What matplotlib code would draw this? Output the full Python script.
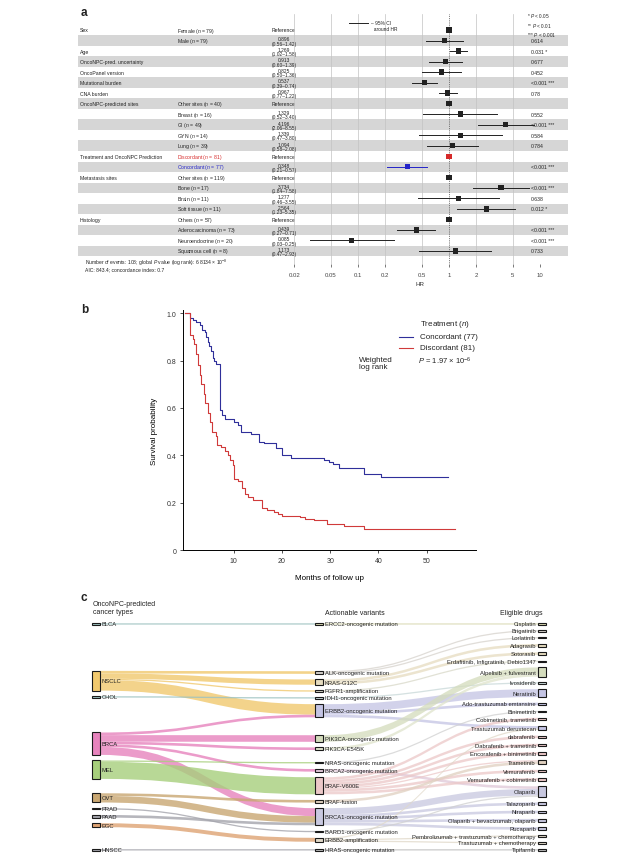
import numpy as np
import matplotlib
matplotlib.use("Agg")
import matplotlib.pyplot as plt
from matplotlib.lines import Line2D
from matplotlib.path import Path
from matplotlib.patches import PathPatch, Rectangle
from matplotlib.ticker import NullLocator

plt.rcParams["font.family"] = ["Liberation Sans", "DejaVu Sans"]
plt.rcParams["mathtext.fontset"] = "custom"
plt.rcParams["mathtext.rm"] = "Liberation Sans"
plt.rcParams["mathtext.it"] = "Liberation Sans:italic"
plt.rcParams["text.color"] = "#222222"

nan = np.nan

# ---------------- panel a data (multivariable Cox model) ----------------
group_labels = ["Sex", "", "Age", "OncoNPC-pred. uncertainty", "OncoPanel version",
                "Mutational burden", "CNA burden", "OncoNPC-predicted sites", "", "", "", "",
                "Treatment and OncoNPC Prediction", "", "Metastasis sites", "", "", "",
                "Histology", "", "", ""]
level_labels = ["Female ($n$ = 79)", "Male ($n$ = 79)", "", "", "", "", "",
                "Other sites ($n$ = 40)", "Breast ($n$ = 16)", "GI ($n$ = 49)", "GYN ($n$ = 14)",
                "Lung ($n$ = 39)", "Discordant ($n$ = 81)", "Concordant ($n$ = 77)",
                "Other sites ($n$ = 119)", "Bone ($n$ = 17)", "Brain ($n$ = 11)",
                "Soft tissue ($n$ = 11)", "Others ($n$ = 57)", "Adenocarcinoma ($n$ = 73)",
                "Neuroendocrine ($n$ = 20)", "Squamous cell ($n$ = 8)"]
hr = [nan, 0.896, 1.269, 0.913, 0.825, 0.537, 0.967, nan, 1.329, 4.196, 1.339, 1.094,
      nan, 0.348, nan, 3.734, 1.277, 2.564, nan, 0.439, 0.085, 1.173]
hr_lo = [nan, 0.56, 1.02, 0.60, 0.50, 0.39, 0.77, nan, 0.52, 2.06, 0.47, 0.58,
         nan, 0.21, nan, 1.84, 0.46, 1.23, nan, 0.27, 0.03, 0.47]
hr_hi = [nan, 1.42, 1.58, 1.39, 1.36, 0.74, 1.22, nan, 3.40, 8.55, 3.80, 2.08,
         nan, 0.57, nan, 7.58, 3.55, 5.35, nan, 0.71, 0.25, 2.93]
p_text = ["", "0.614", "0.031 *", "0.677", "0.452", "<0.001 ***", "0.78", "", "0.552",
          "<0.001 ***", "0.584", "0.784", "", "<0.001 ***", "", "<0.001 ***", "0.638",
          "0.012 *", "", "<0.001 ***", "<0.001 ***", "0.733"]
hr_ticks = [0.02, 0.05, 0.1, 0.2, 0.5, 1, 2, 5, 10]

# ---------------- panel b data (Kaplan-Meier) ----------------
conc_t = [0, 0.9, 1.6, 2.3, 3.0, 3.5, 4.0, 4.4, 4.7, 5.0, 5.4, 5.7, 6.0, 6.4, 7.2, 7.7, 8.2,
          10.2, 10.9, 11.6, 13.6, 15.2, 16.4, 18.8, 20.0, 21.9, 28.8, 29.7, 30.6, 31.8,
          37.0, 40.6, 54.4]
conc_s = [1.0, 0.98, 0.97, 0.965, 0.95, 0.93, 0.92, 0.90, 0.88, 0.86, 0.84, 0.81, 0.80,
          0.785, 0.59, 0.57, 0.555, 0.54, 0.53, 0.50, 0.49, 0.458, 0.45, 0.43, 0.403,
          0.39, 0.38, 0.37, 0.363, 0.346, 0.322, 0.307, 0.307]
disc_t = [0, 1.0, 1.6, 1.9, 2.3, 2.6, 3.0, 3.3, 3.8, 4.1, 4.7, 5.1, 5.5, 6.4, 6.6, 7.4, 8.2,
          8.8, 9.3, 9.8, 10.2, 10.9, 11.8, 12.3, 13.0, 14.1, 15.8, 16.9, 18.3, 19.3, 20.0,
          23.8, 24.8, 26.6, 29.3, 32.8, 37.0, 55.8]
disc_s = [1.0, 0.91, 0.89, 0.87, 0.83, 0.78, 0.74, 0.70, 0.66, 0.62, 0.58, 0.54, 0.50, 0.48,
          0.445, 0.435, 0.42, 0.40, 0.38, 0.36, 0.30, 0.29, 0.26, 0.237, 0.225, 0.21, 0.178,
          0.17, 0.16, 0.15, 0.145, 0.14, 0.13, 0.125, 0.11, 0.10, 0.09, 0.09]

# ---------------- panel c data (Sankey) ----------------
cancer_types = ["BLCA", "NSCLC", "CHOL", "BRCA", "MEL", "OVT", "PRAD", "PAAD", "EGC", "HNSCC"]
variants = ["ERCC2-oncogenic mutation", "ALK-oncogenic mutation", "KRAS-G12C",
            "FGFR1-amplification", "IDH1-oncogenic mutation", "ERBB2-oncogenic mutation",
            "PIK3CA-oncogenic mutation", "PIK3CA-E545K", "NRAS-oncogenic mutation",
            "BRCA2-oncogenic mutation", "BRAF-V600E", "BRAF-fusion", "BRCA1-oncogenic mutation",
            "BARD1-oncogenic mutation", "ERBB2-amplification", "HRAS-oncogenic mutation"]
drugs = ["Cisplatin", "Brigatinib", "Lorlatinib", "Adagrasib", "Sotorasib",
         "Erdafitinib, Infigratinib, Debio1347", "Alpelisib + fulvestrant", "Ivosidenib",
         "Neratinib", "Ado-trastuzumab emtansine", "Binimetinib", "Cobimetinib, trametinib",
         "Trastuzumab deruxtecan", "dabrafenib", "Dabrafenib + trametinib",
         "Encorafenib + binimetinib", "Trametinib", "Vemurafenib", "Vemurafenib + cobimetinib",
         "Olaparib", "Talazoparib", "Niraparib", "Olaparib + bevacizumab, olaparib", "Rucaparib",
         "Pembrolizumab + trastuzumab + chemotherapy", "Trastuzumab + chemotherapy", "Tipifarnib"]
type_links = [
    ("BLCA", "ERCC2-oncogenic mutation", 1), ("NSCLC", "ALK-oncogenic mutation", 2),
    ("NSCLC", "KRAS-G12C", 4), ("NSCLC", "FGFR1-amplification", 1),
    ("NSCLC", "ERBB2-oncogenic mutation", 8), ("CHOL", "IDH1-oncogenic mutation", 1),
    ("BRCA", "ERBB2-oncogenic mutation", 2), ("BRCA", "PIK3CA-oncogenic mutation", 5),
    ("BRCA", "PIK3CA-E545K", 2), ("BRCA", "BRCA2-oncogenic mutation", 2),
    ("BRCA", "BRCA1-oncogenic mutation", 6), ("MEL", "NRAS-oncogenic mutation", 1),
    ("MEL", "BRAF-V600E", 13), ("OVT", "BRAF-fusion", 2), ("OVT", "BRCA1-oncogenic mutation", 5),
    ("PRAD", "BARD1-oncogenic mutation", 1), ("PAAD", "BRCA1-oncogenic mutation", 2),
    ("EGC", "ERBB2-amplification", 3), ("HNSCC", "HRAS-oncogenic mutation", 1)]
drug_links = [
    ("ERCC2-oncogenic mutation", "Cisplatin", 1), ("ALK-oncogenic mutation", "Brigatinib", 1),
    ("ALK-oncogenic mutation", "Lorlatinib", 1), ("KRAS-G12C", "Adagrasib", 2),
    ("KRAS-G12C", "Sotorasib", 2), ("FGFR1-amplification", "Erdafitinib, Infigratinib, Debio1347", 1),
    ("IDH1-oncogenic mutation", "Ivosidenib", 1), ("ERBB2-oncogenic mutation", "Neratinib", 6),
    ("ERBB2-oncogenic mutation", "Ado-trastuzumab emtansine", 2),
    ("ERBB2-oncogenic mutation", "Trastuzumab deruxtecan", 2),
    ("PIK3CA-oncogenic mutation", "Alpelisib + fulvestrant", 5),
    ("PIK3CA-E545K", "Alpelisib + fulvestrant", 2), ("NRAS-oncogenic mutation", "Binimetinib", 1),
    ("BRCA2-oncogenic mutation", "Olaparib", 2), ("BRAF-V600E", "Cobimetinib, trametinib", 2),
    ("BRAF-V600E", "dabrafenib", 2), ("BRAF-V600E", "Dabrafenib + trametinib", 2),
    ("BRAF-V600E", "Encorafenib + binimetinib", 2), ("BRAF-V600E", "Trametinib", 1),
    ("BRAF-V600E", "Vemurafenib", 2), ("BRAF-V600E", "Vemurafenib + cobimetinib", 2),
    ("BRAF-fusion", "Trametinib", 2), ("BRCA1-oncogenic mutation", "Olaparib", 5),
    ("BRCA1-oncogenic mutation", "Talazoparib", 2), ("BRCA1-oncogenic mutation", "Niraparib", 2),
    ("BRCA1-oncogenic mutation", "Olaparib + bevacizumab, olaparib", 2),
    ("BRCA1-oncogenic mutation", "Rucaparib", 2), ("BARD1-oncogenic mutation", "Olaparib", 1),
    ("ERBB2-amplification", "Trastuzumab deruxtecan", 1),
    ("ERBB2-amplification", "Pembrolizumab + trastuzumab + chemotherapy", 1),
    ("ERBB2-amplification", "Trastuzumab + chemotherapy", 1),
    ("HRAS-oncogenic mutation", "Tipifarnib", 1)]

type_colors = {"BLCA": "#9cc2c0", "NSCLC": "#f1c96e", "CHOL": "#9cc2c0", "BRCA": "#e783bd",
               "MEL": "#a7cf7c", "OVT": "#c9a772", "PRAD": "#a4a4ac", "PAAD": "#a4a4ac",
               "EGC": "#dea373", "HNSCC": "#a4a4ac"}
variant_colors = {"ERCC2-oncogenic mutation": "#d8d8b0", "ALK-oncogenic mutation": "#d6d2cc",
                  "KRAS-G12C": "#e6dcc0", "FGFR1-amplification": "#d8d8c8",
                  "IDH1-oncogenic mutation": "#c8d8d8", "ERBB2-oncogenic mutation": "#c4c4e4",
                  "PIK3CA-oncogenic mutation": "#d4dcbc", "PIK3CA-E545K": "#dfe4cc",
                  "NRAS-oncogenic mutation": "#d0d0d0", "BRCA2-oncogenic mutation": "#e0c8d8",
                  "BRAF-V600E": "#ecc8c8", "BRAF-fusion": "#e0d0c0",
                  "BRCA1-oncogenic mutation": "#c8c8e0", "BARD1-oncogenic mutation": "#d0d0d0",
                  "ERBB2-amplification": "#e0d8c8", "HRAS-oncogenic mutation": "#bcbcbc"}

# ---------------- figure ----------------
W, H = 631, 862
fig = plt.figure(figsize=(W / 100, H / 100), dpi=100)


def px_axes(x0, y0, x1, y1):
    return fig.add_axes([x0 / W, 1 - y1 / H, (x1 - x0) / W, (y1 - y0) / H])


def ftext(x, y, s, **kw):
    fig.text(x / W, 1 - y / H, s, **kw)


def fline(x0, x1, y, **kw):
    fig.add_artist(Line2D([x0 / W, x1 / W], [1 - y / H, 1 - y / H], **kw))


# ===== panel a =====
fs_a = 3.7
n_rows = len(level_labels)
rows = np.arange(n_rows)
row_top, row_step = 31, 10.52


def row_of(py):
    return (py - row_top) / row_step


ax_tab = px_axes(0, 15, W, 265)
ax_tab.set_xlim(0, W)
ax_tab.set_ylim(row_of(265), row_of(15))
ax_tab.axis("off")
for r in rows[1::2]:
    ax_tab.fill_between([78, 568], r - 0.5, r + 0.5, color="#d6d6d6", lw=0, zorder=0)
row_colors = ["#222222"] * n_rows
row_colors[12] = "#d62a2a"
row_colors[13] = "#2323c8"
for r in rows:
    if group_labels[r]:
        ax_tab.text(80, r, group_labels[r], fontsize=fs_a, va="center")
    if level_labels[r]:
        ax_tab.text(177, r, level_labels[r], fontsize=fs_a, va="center", color=row_colors[r])
    if np.isnan(hr[r]):
        ax_tab.text(284, r, "Reference", fontsize=fs_a, va="center", ha="center")
    else:
        ax_tab.text(284, r + 0.05, f"{hr[r]:.3f}\n({hr_lo[r]:.2f}–{hr_hi[r]:.2f})",
                    fontsize=3.5, va="center", ha="center", linespacing=0.85)
    if p_text[r]:
        ax_tab.text(531, r, p_text[r], fontsize=fs_a, va="center")

ax_f = px_axes(285, 15, 555, 265)
ax_f.patch.set_alpha(0)
ax_f.set_xscale("log")
ax_f.set_xlim(10 ** ((285 - 449) / 91), 10 ** ((555 - 449) / 91))
ax_f.set_ylim(row_of(265), row_of(15))
for v in hr_ticks:
    if v == 1:
        ax_f.axvline(v, color="#555555", lw=0.6, ls=(0, (1, 1.2)), zorder=1)
    elif v < 10:
        ax_f.axvline(v, color="#c2c2c2", lw=0.5, zorder=1)
hr_plot = np.where(np.isnan(hr), 1.0, hr)
for r in rows:
    if not np.isnan(hr[r]):
        ax_f.plot([hr_lo[r], hr_hi[r]], [r, r], color=row_colors[r], lw=0.7, zorder=2)
ax_f.scatter(hr_plot, rows, marker="s", s=15, c=row_colors, zorder=3, linewidths=0)
for s in ax_f.spines.values():
    s.set_visible(False)
ax_f.set_yticks([])
ax_f.set_xticks(hr_ticks)
ax_f.set_xticklabels([f"{v:g}" for v in hr_ticks])
ax_f.xaxis.set_minor_locator(NullLocator())
ax_f.tick_params(axis="x", length=2, width=0.5, labelsize=4.3, pad=3.5, colors="#444444")
ax_f.set_xlabel("HR", fontsize=4.5, labelpad=3, color="#333333")

ftext(81, 13, "a", fontsize=8.5, fontweight="bold", va="center")
fline(349, 368, 24, color="#222222", lw=0.7)
ftext(371, 26.5, "– 95% CI\n  around HR", fontsize=3.5, va="center", linespacing=1.1)
ftext(527, 25.5, "* $P$ < 0.05\n** $P$ < 0.01\n*** $P$ < 0.001", fontsize=3.4,
      va="center", linespacing=1.25)
ftext(85, 262.5, "Number of events: 108; global $P$ value (log rank): 6.8134 × 10$^{-8}$",
      fontsize=3.6, va="center")
ftext(85, 269.5, "AIC: 843.4; concordance index: 0.7", fontsize=3.6, va="center")

# ===== panel b =====
ax_b = px_axes(183.3, 311, 476, 551)
ax_b.step(conc_t, conc_s, where="post", color="#2f2f9a", lw=0.8)
ax_b.step(disc_t, disc_s, where="post", color="#d03a3a", lw=0.8)
ax_b.set_xlim(-0.4, 60.2)
ax_b.set_ylim(0, 1.014)
ax_b.set_xticks([10, 20, 30, 40, 50])
ax_b.set_yticks([0, 0.2, 0.4, 0.6, 0.8, 1.0])
ax_b.set_yticklabels(["0", "0.2", "0.4", "0.6", "0.8", "1.0"])
for side in ["top", "right"]:
    ax_b.spines[side].set_visible(False)
for side in ["left", "bottom"]:
    ax_b.spines[side].set_linewidth(0.7)
ax_b.tick_params(length=2.5, width=0.6, labelsize=5, pad=2.5, colors="#333333")
ax_b.set_xlabel("Months of follow up", fontsize=5.8, labelpad=7)
ax_b.set_ylabel("Survival probability", fontsize=5.8, labelpad=6)

ftext(81, 310, "b", fontsize=8.5, fontweight="bold", va="center")
ftext(420, 325, "Treatment ($n$)", fontsize=5.8, va="center")
fline(399, 413, 337.7, color="#2f2f9a", lw=0.8)
ftext(420, 337.7, "Concordant (77)", fontsize=5.8, va="center")
fline(399, 413, 349, color="#d03a3a", lw=0.8)
ftext(420, 349, "Discordant (81)", fontsize=5.8, va="center")
ftext(359, 364.5, "Weighted\nlog rank", fontsize=5.8, va="center", linespacing=1.0)
ftext(418, 361.5, "$P$ = 1.97 × 10$^{-6}$", fontsize=5.5, va="center")

# ===== panel c =====


def sankey_layout(columns, links, top, bottom, pad, iterations=50):
    # d3-sankey style relaxation; columns keep their node order
    v_in, v_out = {}, {}
    for s, t, v in links:
        v_out[s] = v_out.get(s, 0) + v
        v_in[t] = v_in.get(t, 0) + v
    nodes = [n for c in columns for n in c]
    value = {n: max(v_in.get(n, 0), v_out.get(n, 0)) for n in nodes}
    ky = min((bottom - top - (len(c) - 1) * pad) / sum(value[n] for n in c) for c in columns)
    h = {n: value[n] * ky for n in nodes}
    y = {}
    for c in columns:
        for i, n in enumerate(c):
            y[n] = top + i

    def resolve():
        for c in columns:
            y0 = top
            for n in c:
                if y[n] < y0:
                    y[n] = y0
                y0 = y[n] + h[n] + pad
            over = y0 - pad - bottom
            if over > 0:
                y[c[-1]] -= over
                y0 = y[c[-1]]
                for n in reversed(c[:-1]):
                    d = y[n] + h[n] + pad - y0
                    if d > 0:
                        y[n] -= d
                    y0 = y[n]

    def centre(n):
        return y[n] + h[n] / 2

    def relax(cols, pairs, alpha):
        for c in cols:
            for n in c:
                nb = [(o, v) for a, o, v in pairs if a == n]
                if nb:
                    tgt = sum(centre(o) * v for o, v in nb) / sum(v for _, v in nb)
                    y[n] += (tgt - centre(n)) * alpha

    outgoing = [(s, t, v) for s, t, v in links]
    incoming = [(t, s, v) for s, t, v in links]
    resolve()
    alpha = 1.0
    for _ in range(iterations):
        alpha *= 0.99
        relax(columns[::-1], outgoing, alpha)
        resolve()
        relax(columns, incoming, alpha)
        resolve()
    return y, h, ky


def band(ax, x0, x1, ya, yb, w, color, alpha):
    xm = (x0 + x1) / 2
    verts = [(x0, ya), (xm, ya), (xm, yb), (x1, yb), (x1, yb + w), (xm, yb + w),
             (xm, ya + w), (x0, ya + w), (x0, ya)]
    codes = [Path.MOVETO, Path.CURVE4, Path.CURVE4, Path.CURVE4, Path.LINETO,
             Path.CURVE4, Path.CURVE4, Path.CURVE4, Path.CLOSEPOLY]
    ax.add_patch(PathPatch(Path(verts, codes), facecolor=color, edgecolor="none",
                           alpha=alpha, zorder=1))


ax_c = px_axes(0, 590, W, 862)
ax_c.set_xlim(0, W)
ax_c.set_ylim(862, 590)
ax_c.axis("off")

columns = [cancer_types, variants, drugs]
all_links = type_links + drug_links
col_x = [92.3, 315.0, 538.0]
node_w = 8.0
ny, nh, ky = sankey_layout(columns, all_links, 624.3, 851.5, 5.6, iterations=24)

# link breadths: outgoing links ordered by target position, incoming by source position
out_links, in_links = {}, {}
for s, t, v in all_links:
    out_links.setdefault(s, []).append((t, v))
    in_links.setdefault(t, []).append((s, v))
sy_of, ty_of = {}, {}
for s, lst in out_links.items():
    off = ny[s]
    for t, v in sorted(lst, key=lambda a: ny[a[0]]):
        sy_of[(s, t)] = off
        off += v * ky
for t, lst in in_links.items():
    off = ny[t]
    for s, v in sorted(lst, key=lambda a: ny[a[0]]):
        ty_of[(s, t)] = off
        off += v * ky

for s, t, v in type_links:
    band(ax_c, col_x[0] + node_w, col_x[1], sy_of[(s, t)], ty_of[(s, t)], v * ky,
         type_colors[s], 0.8)
for s, t, v in drug_links:
    band(ax_c, col_x[1] + node_w, col_x[2], sy_of[(s, t)], ty_of[(s, t)], v * ky,
         variant_colors[s], 0.75)

drug_fill = {}
for s, t, v in drug_links:
    if t not in drug_fill or v > drug_fill[t][1]:
        drug_fill[t] = (variant_colors[s], v)

for ci, col in enumerate(columns):
    for n in col:
        if ci == 0:
            fc = type_colors[n]
        elif ci == 1:
            fc = variant_colors[n]
        else:
            fc = drug_fill[n][0]
        ax_c.add_patch(Rectangle((col_x[ci], ny[n]), node_w, nh[n], facecolor=fc,
                                 edgecolor="#1a1a1a", lw=0.8, zorder=3))
        yc = ny[n] + nh[n] / 2
        if ci == 0:
            ax_c.text(col_x[0] + node_w + 1.2, yc, n, fontsize=4.2, va="center", zorder=4)
        elif ci == 1:
            ax_c.text(col_x[1] + node_w + 1.8, yc, n, fontsize=4.2, va="center", zorder=4)
        else:
            ax_c.text(col_x[2] - 2.0, yc, n, fontsize=4.2, va="center", ha="right", zorder=4)

ftext(81, 598, "c", fontsize=8.5, fontweight="bold", va="center")
ftext(93, 608.5, "OncoNPC-predicted\ncancer types", fontsize=5, va="center", linespacing=1.1)
ftext(325, 614, "Actionable variants", fontsize=5, va="center")
ftext(543, 614, "Eligible drugs", fontsize=5, va="center", ha="right")

fig.savefig("out.png", dpi=100)
